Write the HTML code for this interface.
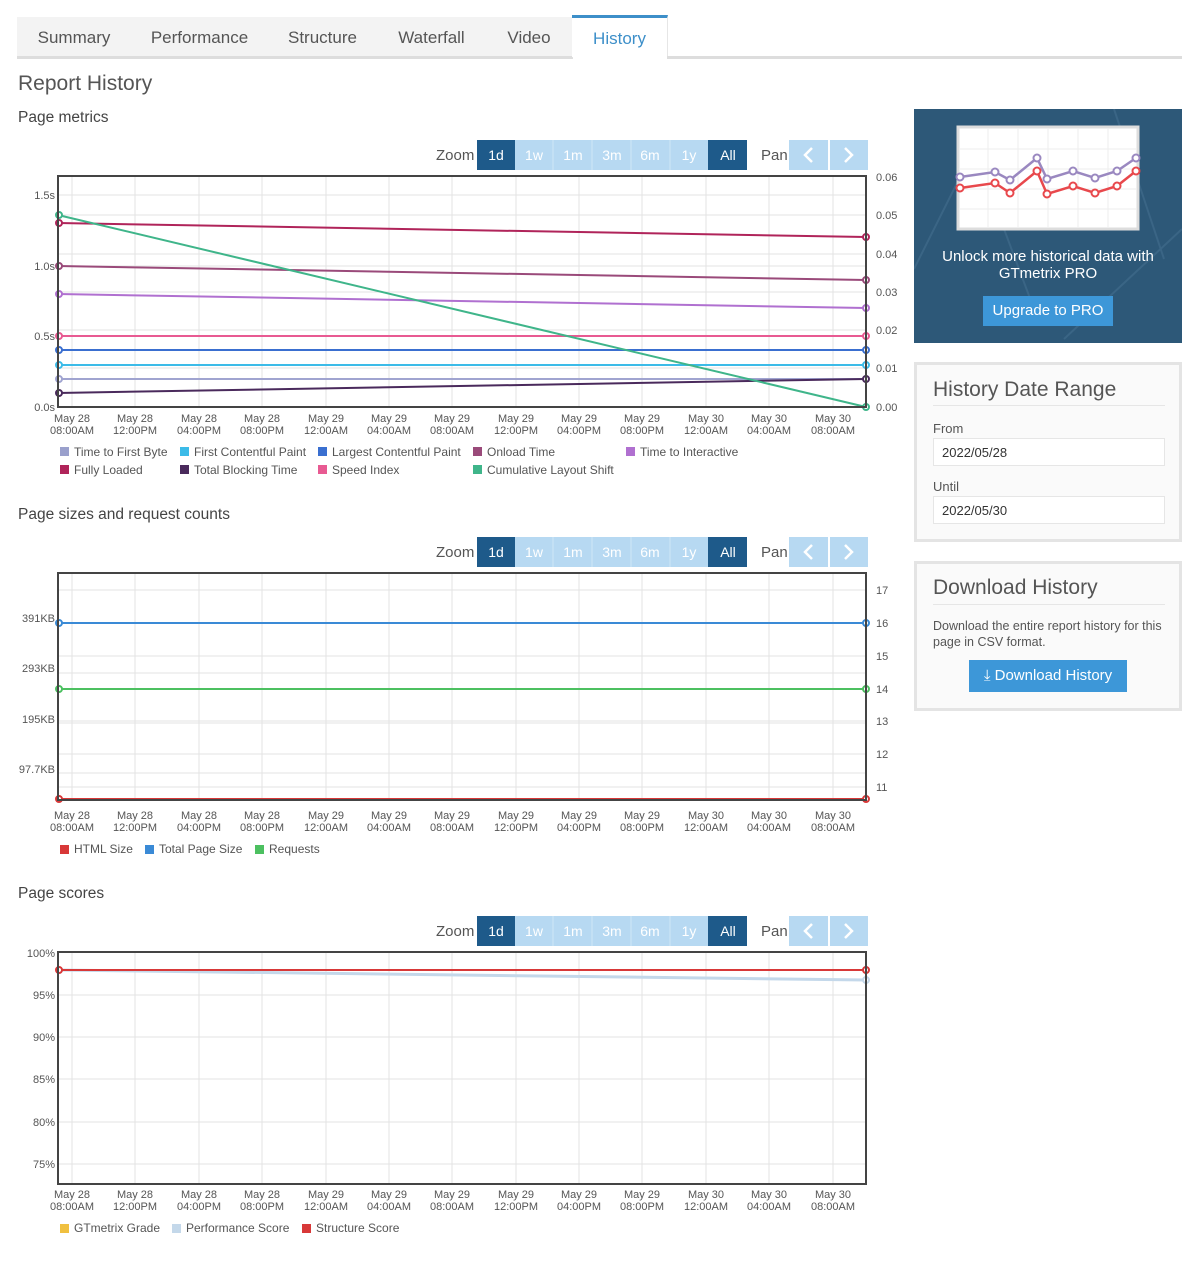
<!DOCTYPE html>
<html><head><meta charset="utf-8"><style>
body{margin:0;width:1200px;height:1265px;background:#fff;font-family:"Liberation Sans",sans-serif;position:relative;overflow:hidden;color:#444}
.abs{position:absolute}
.tabs{left:17px;top:17px;width:1165px;height:42px}
.tab{position:absolute;top:0;height:39px;background:#f3f3f3;border-bottom:3px solid #ddd;font-size:17px;color:#555;text-align:center;line-height:41px;border-right:1px solid #e6e6e6}
.h1{font-size:21px;color:#555;left:18px;top:72px}
.h2{font-size:15.5px;color:#444}
.box{border:3px solid #e4e4e4;background:#fafafa;box-sizing:border-box}
.box h3{font-weight:normal;font-size:21px;color:#555;margin:0;position:absolute;left:16px}
.inp{position:absolute;left:16px;width:232px;height:28px;border:1px solid #e6e6e6;background:#fff;font-size:13px;line-height:28px;padding-left:8px;box-sizing:border-box;color:#333}
</style></head><body>
<div class="abs tabs">
<div class="tab" style="left:0;width:114px">Summary</div>
<div class="tab" style="left:114px;width:137px">Performance</div>
<div class="tab" style="left:251px;width:109px">Structure</div>
<div class="tab" style="left:360px;width:109px">Waterfall</div>
<div class="tab" style="left:469px;width:86px">Video</div>
<div class="tab" style="left:555px;width:95px;background:#fff;border-bottom:none;border-top:3px solid #3d8fc9;height:39px;top:-2px;color:#3d8fc9">History</div>
<div class="abs" style="left:650px;top:39px;width:515px;height:3px;background:#ddd"></div>
</div>
<div class="abs h1">Report History</div>
<div class="abs h2" style="left:18px;top:109px">Page metrics</div>
<div class="abs h2" style="left:18px;top:506px">Page sizes and request counts</div>
<div class="abs h2" style="left:18px;top:885px">Page scores</div>

<svg class="abs" style="left:0;top:0" width="900" height="1265" font-family="Liberation Sans, sans-serif">
<defs>
<g id="zb">
<text x="436" y="20" font-size="15" fill="#555">Zoom</text>
<rect x="477" y="0" width="38" height="30" fill="#1e5a8a"/><text x="496" y="20" font-size="14" fill="#fff" text-anchor="middle">1d</text>
<rect x="515" y="0" width="193" height="30" fill="#b7d9f2"/>
<g font-size="14" fill="#fff" text-anchor="middle"><text x="534" y="20">1w</text><text x="573" y="20">1m</text><text x="612" y="20">3m</text><text x="650" y="20">6m</text><text x="689" y="20">1y</text></g>
<g stroke="#cfe6f6"><line x1="553" y1="0" x2="553" y2="30"/><line x1="592" y1="0" x2="592" y2="30"/><line x1="631" y1="0" x2="631" y2="30"/><line x1="670" y1="0" x2="670" y2="30"/></g>
<rect x="708" y="0" width="39" height="30" fill="#1e5a8a"/><text x="728" y="20" font-size="14" fill="#fff" text-anchor="middle">All</text>
<text x="761" y="20" font-size="15" fill="#555">Pan</text>
<rect x="789" y="0" width="39" height="30" fill="#b7d9f2"/><rect x="830" y="0" width="38" height="30" fill="#b7d9f2"/>
<path d="M812 8 L805 15 L812 22 M845 8 L852 15 L845 22" stroke="#fff" stroke-width="2.5" fill="none"/>
</g>
<g id="vg" stroke="#e3e3e3"><line x1="72" y1="0" x2="72" y2="1"/></g>
<g id="xl" font-size="11" fill="#555" text-anchor="middle">
<text x="72" y="0">May 28</text><text x="72" y="12">08:00AM</text>
<text x="135" y="0">May 28</text><text x="135" y="12">12:00PM</text>
<text x="199" y="0">May 28</text><text x="199" y="12">04:00PM</text>
<text x="262" y="0">May 28</text><text x="262" y="12">08:00PM</text>
<text x="326" y="0">May 29</text><text x="326" y="12">12:00AM</text>
<text x="389" y="0">May 29</text><text x="389" y="12">04:00AM</text>
<text x="452" y="0">May 29</text><text x="452" y="12">08:00AM</text>
<text x="516" y="0">May 29</text><text x="516" y="12">12:00PM</text>
<text x="579" y="0">May 29</text><text x="579" y="12">04:00PM</text>
<text x="642" y="0">May 29</text><text x="642" y="12">08:00PM</text>
<text x="706" y="0">May 30</text><text x="706" y="12">12:00AM</text>
<text x="769" y="0">May 30</text><text x="769" y="12">04:00AM</text>
<text x="833" y="0">May 30</text><text x="833" y="12">08:00AM</text>
</g>
</defs>

<!-- chart 1 -->
<use href="#zb" y="140"/>
<g stroke="#e3e3e3">
<path d="M72 176V407M135 176V407M199 176V407M262 176V407M326 176V407M389 176V407M452 176V407M516 176V407M579 176V407M642 176V407M706 176V407M769 176V407M833 176V407M58 195H866M58 266H866M58 336H866M58 215H866M58 254H866M58 292H866M58 330H866M58 368H866"/>
</g>
<g font-size="11" fill="#555" text-anchor="end"><text x="55" y="199">1.5s</text><text x="55" y="270">1.0s</text><text x="55" y="340">0.5s</text><text x="55" y="411">0.0s</text></g>
<g font-size="11" fill="#555"><text x="876" y="181">0.06</text><text x="876" y="219">0.05</text><text x="876" y="258">0.04</text><text x="876" y="296">0.03</text><text x="876" y="334">0.02</text><text x="876" y="372">0.01</text><text x="876" y="411">0.00</text></g>
<g stroke-width="2" fill="#fff">
<line x1="58" y1="223" x2="866" y2="237" stroke="#b0245a"/>
<line x1="58" y1="266" x2="866" y2="280" stroke="#9a4a7a"/>
<line x1="58" y1="294" x2="866" y2="308" stroke="#b070d0"/>
<line x1="58" y1="336" x2="866" y2="336" stroke="#e85a92"/>
<line x1="58" y1="350" x2="866" y2="350" stroke="#3a6fd0"/>
<line x1="58" y1="365" x2="866" y2="365" stroke="#3cbbe8"/>
<line x1="58" y1="379" x2="866" y2="379" stroke="#a0a4d0"/>
<line x1="58" y1="393" x2="866" y2="379" stroke="#4a2a5c"/>
<line x1="58" y1="215" x2="866" y2="407" stroke="#3fb58a"/>
<circle cx="59" cy="223" r="3" stroke="#b0245a"/><circle cx="866" cy="237" r="3" stroke="#b0245a"/>
<circle cx="59" cy="266" r="3" stroke="#9a4a7a"/><circle cx="866" cy="280" r="3" stroke="#9a4a7a"/>
<circle cx="59" cy="294" r="3" stroke="#b070d0"/><circle cx="866" cy="308" r="3" stroke="#b070d0"/>
<circle cx="59" cy="336" r="3" stroke="#e85a92"/><circle cx="866" cy="336" r="3" stroke="#e85a92"/>
<circle cx="59" cy="350" r="3" stroke="#3a6fd0"/><circle cx="866" cy="350" r="3" stroke="#3a6fd0"/>
<circle cx="59" cy="365" r="3" stroke="#3cbbe8"/><circle cx="866" cy="365" r="3" stroke="#3cbbe8"/>
<circle cx="59" cy="379" r="3" stroke="#a0a4d0"/><circle cx="866" cy="379" r="3" stroke="#4a2a5c"/>
<circle cx="59" cy="393" r="3" stroke="#4a2a5c"/>
<circle cx="59" cy="215" r="3" stroke="#3fb58a"/><circle cx="866" cy="407" r="3" stroke="#3fb58a"/>
</g>
<rect x="58" y="176" width="808" height="231" fill="none" stroke="#444" stroke-width="2"/>
<use href="#xl" y="422"/>
<g font-size="12" fill="#555">
<rect x="60" y="447" width="9" height="9" fill="#9aa0cc"/><text x="74" y="456">Time to First Byte</text>
<rect x="180" y="447" width="9" height="9" fill="#3cbbe8"/><text x="194" y="456">First Contentful Paint</text>
<rect x="318" y="447" width="9" height="9" fill="#3a6fd0"/><text x="332" y="456">Largest Contentful Paint</text>
<rect x="473" y="447" width="9" height="9" fill="#9a4a7a"/><text x="487" y="456">Onload Time</text>
<rect x="626" y="447" width="9" height="9" fill="#b070d0"/><text x="640" y="456">Time to Interactive</text>
<rect x="60" y="465" width="9" height="9" fill="#b0245a"/><text x="74" y="474">Fully Loaded</text>
<rect x="180" y="465" width="9" height="9" fill="#4a2a5c"/><text x="194" y="474">Total Blocking Time</text>
<rect x="318" y="465" width="9" height="9" fill="#e85a92"/><text x="332" y="474">Speed Index</text>
<rect x="473" y="465" width="9" height="9" fill="#3fb58a"/><text x="487" y="474">Cumulative Layout Shift</text>
</g>

<!-- chart 2 -->
<use href="#zb" y="537"/>
<g stroke="#e3e3e3">
<path d="M72 573V800M135 573V800M199 573V800M262 573V800M326 573V800M389 573V800M452 573V800M516 573V800M579 573V800M642 573V800M706 573V800M769 573V800M833 573V800M58 623H866M58 673H866M58 723H866M58 773H866M58 590H866M58 656H866M58 689H866M58 721H866M58 754H866M58 787H866"/>
</g>
<g font-size="11" fill="#555" text-anchor="end"><text x="55" y="622">391KB</text><text x="55" y="672">293KB</text><text x="55" y="723">195KB</text><text x="55" y="773">97.7KB</text></g>
<g font-size="11" fill="#555"><text x="876" y="594">17</text><text x="876" y="627">16</text><text x="876" y="660">15</text><text x="876" y="693">14</text><text x="876" y="725">13</text><text x="876" y="758">12</text><text x="876" y="791">11</text></g>
<g stroke-width="2" fill="#fff">
<line x1="58" y1="623" x2="866" y2="623" stroke="#3a8ad6"/>
<line x1="58" y1="689" x2="866" y2="689" stroke="#4cc060"/>
<line x1="58" y1="799" x2="866" y2="799" stroke="#d83838"/>
<circle cx="59" cy="623" r="3" stroke="#3a8ad6"/><circle cx="866" cy="623" r="3" stroke="#3a8ad6"/>
<circle cx="59" cy="689" r="3" stroke="#4cc060"/><circle cx="866" cy="689" r="3" stroke="#4cc060"/>
<circle cx="59" cy="799" r="3" stroke="#d83838"/><circle cx="866" cy="799" r="3" stroke="#d83838"/>
</g>
<rect x="58" y="573" width="808" height="227" fill="none" stroke="#444" stroke-width="2"/>
<use href="#xl" y="819"/>
<g font-size="12" fill="#555">
<rect x="60" y="845" width="9" height="9" fill="#d83838"/><text x="74" y="853">HTML Size</text>
<rect x="145" y="845" width="9" height="9" fill="#3a8ad6"/><text x="159" y="853">Total Page Size</text>
<rect x="255" y="845" width="9" height="9" fill="#4cc060"/><text x="269" y="853">Requests</text>
</g>

<!-- chart 3 -->
<use href="#zb" y="916"/>
<g stroke="#e3e3e3">
<path d="M72 952V1184M135 952V1184M199 952V1184M262 952V1184M326 952V1184M389 952V1184M452 952V1184M516 952V1184M579 952V1184M642 952V1184M706 952V1184M769 952V1184M833 952V1184M58 995H866M58 1037H866M58 1079H866M58 1122H866M58 1164H866"/>
</g>
<g font-size="11" fill="#555" text-anchor="end"><text x="55" y="957">100%</text><text x="55" y="999">95%</text><text x="55" y="1041">90%</text><text x="55" y="1083">85%</text><text x="55" y="1126">80%</text><text x="55" y="1168">75%</text></g>
<g stroke-width="2" fill="#fff">
<line x1="58" y1="970" x2="866" y2="980" stroke="#c4d8ea" stroke-width="3"/>
<line x1="58" y1="970" x2="866" y2="970" stroke="#d83838"/>
<circle cx="59" cy="970" r="3" stroke="#d83838"/><circle cx="866" cy="970" r="3" stroke="#d83838"/>
<circle cx="866" cy="980" r="3" stroke="#c4d8ea"/>
</g>
<rect x="58" y="952" width="808" height="232" fill="none" stroke="#444" stroke-width="2"/>
<use href="#xl" y="1198"/>
<g font-size="12" fill="#555">
<rect x="60" y="1224" width="9" height="9" fill="#f0c040"/><text x="74" y="1232">GTmetrix Grade</text>
<rect x="172" y="1224" width="9" height="9" fill="#c4d8ea"/><text x="186" y="1232">Performance Score</text>
<rect x="302" y="1224" width="9" height="9" fill="#d83838"/><text x="316" y="1232">Structure Score</text>
</g>
</svg>

<!-- sidebar -->
<div class="abs" style="left:914px;top:109px;width:268px;height:234px;background:#2d5878">
<svg class="abs" style="left:0;top:0" width="268" height="234">
<path d="M0 160 L60 40 L120 200 M150 230 L268 120 M200 0 L250 150" stroke="#3a6585" stroke-width="2" fill="none"/>
<rect x="44" y="18" width="180" height="102" fill="#fff" stroke="#ddd" stroke-width="3"/>
<g stroke="#eee"><path d="M74 20V118M104 20V118M134 20V118M164 20V118M194 20V118M46 40H222M46 60H222M46 80H222M46 100H222"/></g>
<polyline points="46,68 81,63 96,71 123,49 133,70 159,62 181,69 203,62 222,49" fill="none" stroke="#9a88c0" stroke-width="2.5"/>
<polyline points="46,79 81,74 96,84 123,62 133,85 159,77 181,84 203,77 222,62" fill="none" stroke="#e8484c" stroke-width="2.5"/>
<g fill="#fff" stroke-width="2"><g stroke="#9a88c0"><circle cx="46" cy="68" r="3.5"/><circle cx="81" cy="63" r="3.5"/><circle cx="96" cy="71" r="3.5"/><circle cx="123" cy="49" r="3.5"/><circle cx="133" cy="70" r="3.5"/><circle cx="159" cy="62" r="3.5"/><circle cx="181" cy="69" r="3.5"/><circle cx="203" cy="62" r="3.5"/><circle cx="222" cy="49" r="3.5"/></g>
<g stroke="#e8484c"><circle cx="46" cy="79" r="3.5"/><circle cx="81" cy="74" r="3.5"/><circle cx="96" cy="84" r="3.5"/><circle cx="123" cy="62" r="3.5"/><circle cx="133" cy="85" r="3.5"/><circle cx="159" cy="77" r="3.5"/><circle cx="181" cy="84" r="3.5"/><circle cx="203" cy="77" r="3.5"/><circle cx="222" cy="62" r="3.5"/></g></g>
</svg>
<div class="abs" style="left:0;top:139px;width:268px;text-align:center;color:#fff;font-size:15px;line-height:17px">Unlock more historical data with<br>GTmetrix PRO</div>
<div class="abs" style="left:69px;top:187px;width:130px;height:30px;background:#3d97d8;color:#fff;font-size:15px;line-height:30px;text-align:center">Upgrade to PRO</div>
</div>

<div class="abs box" style="left:914px;top:362px;width:268px;height:180px">
<h3 style="top:13px">History Date Range</h3>
<div class="abs" style="left:16px;top:40px;width:232px;height:1px;background:#e6e6e6"></div>
<div class="abs" style="left:16px;top:56px;font-size:13px;color:#555">From</div>
<div class="inp" style="top:73px">2022/05/28</div>
<div class="abs" style="left:16px;top:114px;font-size:13px;color:#555">Until</div>
<div class="inp" style="top:131px">2022/05/30</div>
</div>

<div class="abs box" style="left:914px;top:561px;width:268px;height:150px">
<h3 style="top:12px">Download History</h3>
<div class="abs" style="left:16px;top:40px;width:232px;height:1px;background:#e6e6e6"></div>
<div class="abs" style="left:16px;top:54px;width:240px;font-size:12.5px;line-height:16px;color:#555">Download the entire report history for this page in CSV format.</div>
<div class="abs" style="left:52px;top:96px;width:158px;height:32px;background:#3d97d8;color:#fff;font-size:15px;line-height:32px;text-align:center">&#x2913; Download History</div>
</div>
</body></html>
